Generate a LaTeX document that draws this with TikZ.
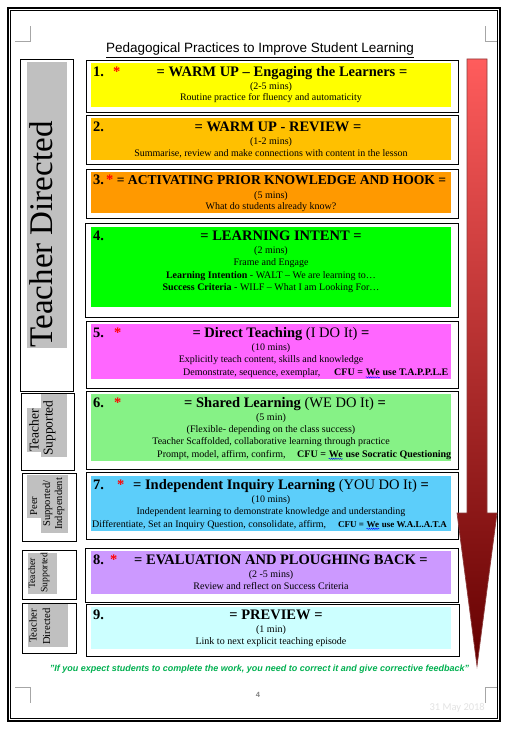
\documentclass[tikz,border=0pt]{standalone}
\usepackage{fontspec}
\setmainfont{Liberation Serif}
\setsansfont{Liberation Sans}
\newfontfamily\calibfont{Carlito}
\usetikzlibrary{fit,decorations.pathmorphing}
\definecolor{cyel}{HTML}{FFFF00}
\definecolor{corg}{HTML}{FFC000}
\definecolor{cdorg}{HTML}{FF9900}
\definecolor{cgrn}{HTML}{00FF00}
\definecolor{cmag}{HTML}{FF66FF}
\definecolor{clgrn}{HTML}{86F286}
\definecolor{ccyan}{HTML}{5CCEFA}
\definecolor{cpur}{HTML}{CC99FF}
\definecolor{clcyan}{HTML}{CCFFFF}
\definecolor{lbgray}{HTML}{C0C0C0}
\definecolor{qgreen}{HTML}{00B050}
\definecolor{markgray}{HTML}{A6A6A6}
\definecolor{dategray}{HTML}{E3E3E3}
\begin{document}
\begin{tikzpicture}[x=1pt,y=-1pt,
  obox/.style={draw=black, line width=0.9pt, inner sep=0pt},
  cbox/.style={draw=none, inner sep=0pt},
  lbox/.style={draw=black, line width=0.9pt, inner sep=0pt},
  num/.style={font=\fontsize{14.5}{17}\selectfont\bfseries, anchor=base west, inner sep=0pt},
  starmark/.style={font=\fontsize{14.5}{17}\selectfont\bfseries, text=red, anchor=base west, inner sep=0pt},
  ttl/.style={font=\fontsize{14.5}{17}\selectfont\bfseries, anchor=base, inner sep=0pt},
  sm/.style={font=\fontsize{10}{12}\selectfont, anchor=base, inner sep=0pt},
  smw/.style={font=\fontsize{10}{12}\selectfont, anchor=base west, inner sep=0pt},
  smb/.style={font=\fontsize{10}{12}\selectfont\bfseries, anchor=base west, inner sep=0pt},
  smbc/.style={font=\fontsize{9}{11}\selectfont\bfseries, anchor=base west, inner sep=0pt},
  vlab/.style={rotate=90, anchor=base west, inner sep=0pt},
  squig/.style={draw=blue, line width=0.4pt, decorate, decoration={snake, amplitude=0.6pt, segment length=2.2pt}},
  cmark/.style={draw=markgray, line width=0.8pt}
]
\useasboundingbox (0,0) rectangle (508,730);
\fill[white] (0,0) rectangle (508,730);

% page frame
\draw[line width=2pt] (8,7.7) rectangle (500,721.3);
\draw[line width=0.9pt] (10.6,10.2) rectangle (497.6,718.8);

% corner marks
\draw[cmark] (15,41) -- (30.5,41) -- (30.5,26);
\draw[cmark] (497,41) -- (485,41) -- (485,26);
\draw[cmark] (15,687) -- (30.5,687) -- (30.5,703);
\draw[cmark] (497,687) -- (485,687) -- (485,703);

% heading
\node[font=\sffamily\fontsize{13.5}{16}\selectfont, anchor=base, inner sep=0pt] (hd) at (260,53)
  {\underline{Pedagogical Practices to Improve Student Learning}};

% ---------- main boxes ----------
\node[obox, fit={(86,60) (458,112)}] (o1) {};
\node[cbox, fill=cyel, fit={(91,63) (451,107)}] (i1) {};
\node[obox, fit={(86,115) (458,164)}] (o2) {};
\node[cbox, fill=corg, fit={(91,118) (451,160)}] (i2) {};
\node[obox, fit={(86,169) (458,218)}] (o3) {};
\node[cbox, fill=cdorg, fit={(91,172) (451,213)}] (i3) {};
\node[obox, fit={(85,223) (458,317)}] (o4) {};
\node[cbox, fill=cgrn, fit={(91,227) (451,307)}] (i4) {};
\node[obox, fit={(86,321) (458,388)}] (o5) {};
\node[cbox, fill=cmag, fit={(91,324) (451,379)}] (i5) {};
\node[obox, fit={(86,391) (458,469)}] (o6) {};
\node[cbox, fill=clgrn, fit={(91,394) (451,461)}] (i6) {};
\node[obox, fit={(86,472) (458,539)}] (o7) {};
\node[cbox, fill=ccyan, fit={(91,476) (451,531)}] (i7) {};
\node[obox, fit={(85,548) (458,602)}] (o8) {};
\node[cbox, fill=cpur, fit={(91,551) (451,594)}] (i8) {};
\node[obox, fit={(86,604) (459,656)}] (o9) {};
\node[cbox, fill=clcyan, fit={(91,607) (451,649)}] (i9) {};

% box 1
\node[num] (n1) at (93,77) {1.};
\node[starmark] (s1) at (113,77) {*};
\node[ttl] (t1) at (282,77) {= WARM UP – Engaging the Learners =};
\node[sm] (d1) at (271,90) {(2-5 mins)};
\node[sm] (e1) at (271,100.7) {Routine practice for fluency and automaticity};

% box 2
\node[num] (n2) at (93,132) {2.};
\node[ttl] (t2) at (278,132) {= WARM UP - REVIEW =};
\node[sm] (d2) at (271,145) {(1-2 mins)};
\node[sm] (e2) at (271,157) {Summarise, review and make connections with content in the lesson};

% box 3
\node[num] (n3) at (93,184) {3.};
\node[starmark] (s3) at (106,184) {*};
\node[ttl, font=\fontsize{13.6}{16}\selectfont\bfseries] (t3) at (281.5,184) {= ACTIVATING PRIOR KNOWLEDGE AND HOOK =};
\node[sm] (d3) at (271,198) {(5 mins)};
\node[sm] (e3) at (271,209) {What do students already know?};

% box 4
\node[num] (n4) at (93,240) {4.};
\node[ttl] (t4) at (281,240) {= LEARNING INTENT =};
\node[sm] (d4) at (271,253) {(2 mins)};
\node[sm] (e4) at (271,265) {Frame and Engage};
\node[sm] (f4) at (271,278) {\textbf{Learning Intention} - WALT – We are learning to…};
\node[sm] (g4) at (271,290.5) {\textbf{Success Criteria} - WILF – What I am Looking For…};

% box 5
\node[num] (n5) at (93,337) {5.};
\node[starmark] (s5) at (114,337) {*};
\node[ttl] (t5) at (281,337) {= Direct Teaching {\mdseries (I DO It)} =};
\node[sm] (d5) at (271,350) {(10 mins)};
\node[sm] (e5) at (271,362) {Explicitly teach content, skills and knowledge};
\node[smw] (f5) at (183,375.5) {Demonstrate, sequence, exemplar,};
\node[smb] (c5) at (334,375.5) {CFU =};
\node[smb] (we5) at ([xshift=2.5pt]c5.base east) {We};
\node[smb] (u5) at ([xshift=2.5pt]we5.base east) {use T.A.P.P.L.E};
\draw[squig] ([yshift=-1.8pt]we5.base west) -- ([yshift=-1.8pt]we5.base east);

% box 6
\node[num] (n6) at (93,407) {6.};
\node[starmark] (s6) at (114,407) {*};
\node[ttl] (t6) at (285,407) {= Shared Learning {\mdseries (WE DO It)} =};
\node[sm] (d6) at (271,420) {(5 min)};
\node[sm] (e6) at (271,432) {(Flexible- depending on the class success)};
\node[sm] (f6) at (271,444.5) {Teacher Scaffolded, collaborative learning through practice};
\node[smw] (g6) at (157,457) {Prompt, model, affirm, confirm,};
\node[smb] (c6) at (297,457) {CFU =};
\node[smb] (we6) at ([xshift=2.5pt]c6.base east) {We};
\node[smb] (u6) at ([xshift=2.5pt]we6.base east) {use Socratic Questioning};
\draw[squig] ([yshift=-1.8pt]we6.base west) -- ([yshift=-1.8pt]we6.base east);

% box 7
\node[num] (n7) at (93,489) {7.};
\node[starmark] (s7) at (117,489) {*};
\node[ttl] (t7) at (281,489) {= Independent Inquiry Learning {\mdseries (YOU DO It)} =};
\node[sm] (d7) at (271,502) {(10 mins)};
\node[sm] (e7) at (271,514) {Independent learning to demonstrate knowledge and understanding};
\node[smw] (f7) at (92,527) {Differentiate, Set an Inquiry Question, consolidate, affirm,};
\node[smbc] (c7) at (338,527) {CFU =};
\node[smbc] (we7) at ([xshift=2.2pt]c7.base east) {We};
\node[smbc] (u7) at ([xshift=2.2pt]we7.base east) {use W.A.L.A.T.A};
\draw[squig] ([yshift=-1.8pt]we7.base west) -- ([yshift=-1.8pt]we7.base east);

% box 8
\node[num] (n8) at (93,564) {8.};
\node[starmark] (s8) at (110,564) {*};
\node[ttl] (t8) at (281,564) {= EVALUATION AND PLOUGHING BACK =};
\node[sm] (d8) at (271,577) {(2 -5 mins)};
\node[sm] (e8) at (271,589) {Review and reflect on Success Criteria};

% box 9
\node[num] (n9) at (93,619) {9.};
\node[ttl] (t9) at (276,619) {= PREVIEW =};
\node[sm] (d9) at (271,632) {(1 min)};
\node[sm] (e9) at (271,644) {Link to next explicit teaching episode};

% ---------- left labels ----------
\node[lbox, fit={(20,59) (73,391)}] (L1) {};
\fill[lbgray] (27,62) rectangle (67,348);
\node[vlab, font=\fontsize{33}{38}\selectfont] (l1) at (52.5,347.5) {Teacher Directed};

\node[lbox, fit={(21,393) (74,470)}] (L2) {};
\fill[lbgray] (27,408) rectangle (41,452);
\fill[lbgray] (41,394) rectangle (67,457);
\node[vlab, font=\fontsize{13.5}{15}\selectfont] (l2a) at (38.5,452) {Teacher};
\node[vlab, font=\fontsize{13.5}{15}\selectfont] (l2b) at (52.5,456) {Supported};

\node[lbox, fit={(22,473) (76,541)}] (L3) {};
\fill[lbgray] (27,475) rectangle (41,518);
\fill[lbgray] (41,475) rectangle (68,533);
\node[vlab, font=\fontsize{10.5}{12}\selectfont] (l3a) at (37,515.5) {Peer};
\node[vlab, font=\fontsize{10.5}{12}\selectfont] (l3b) at (50,527) {Supported/};
\node[vlab, font=\fontsize{10.5}{12}\selectfont] (l3c) at (62,530) {Independent};

\node[lbox, fit={(22,550) (76,599)}] (L4) {};
\fill[lbgray] (28,553) rectangle (57,594);
\node[vlab, font=\fontsize{9.7}{11}\selectfont] (l4a) at (35,589) {Teacher};
\node[vlab, font=\fontsize{9.7}{11}\selectfont] (l4b) at (47.4,593) {Supported};

\node[lbox, fit={(22,603) (76,653)}] (L5) {};
\fill[lbgray] (28,604) rectangle (68,647);
\node[vlab, font=\fontsize{10.7}{12}\selectfont] (l5a) at (36.5,643) {Teacher};
\node[vlab, font=\fontsize{10.7}{12}\selectfont] (l5b) at (50,645) {Directed};

% ---------- arrow ----------
\shadedraw[top color={rgb,255:red,255;green,92;blue,92},
  middle color={rgb,255:red,218;green,40;blue,40},
  bottom color={rgb,255:red,100;green,0;blue,0},
  draw={rgb,255:red,140;green,60;blue,60}, line width=0.7pt, line join=miter]
  (467,59) -- (487,59) -- (487,513) -- (497,513) -- (477,666) -- (457,513) -- (467,513) -- cycle;

% ---------- footer ----------
\node[font=\sffamily\bfseries\itshape\fontsize{9}{11}\selectfont, text=qgreen, anchor=base, inner sep=0pt] (qt) at (259.5,671.5)
  {"If you expect students to complete the work, you need to correct it and give corrective feedback"};
\node[font=\sffamily\bfseries\fontsize{7.5}{9}\selectfont, text=gray, anchor=base, inner sep=0pt] (pg) at (258,697) {4};
\node[font=\calibfont\fontsize{10.5}{12}\selectfont, text=dategray, anchor=base east, inner sep=0pt] (dt) at (485,710) {31 May 2018};
\end{tikzpicture}
\end{document}
